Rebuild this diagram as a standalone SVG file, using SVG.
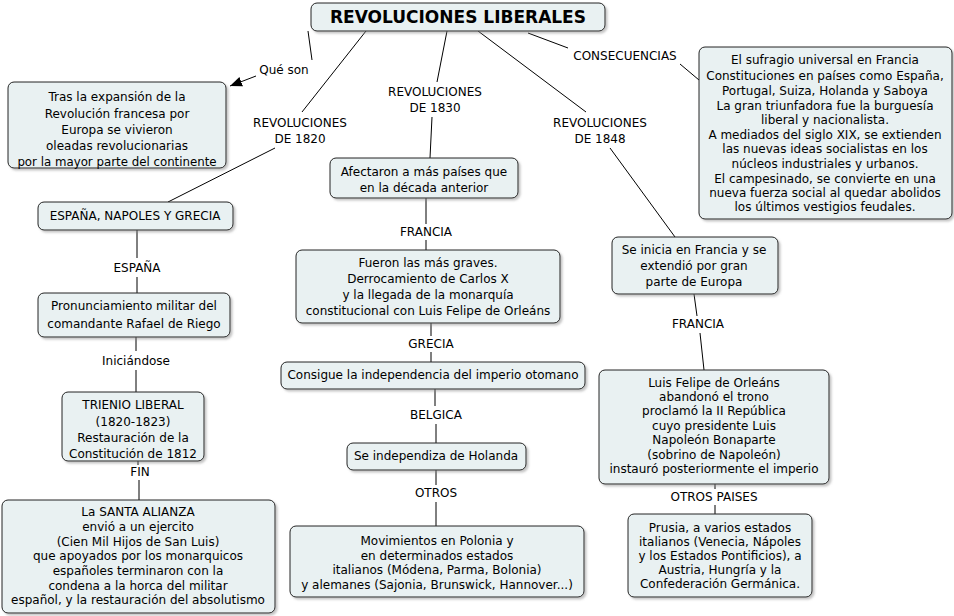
<svg xmlns="http://www.w3.org/2000/svg" width="954" height="616" viewBox="0 0 954 616">
<style>
.n{fill:#e9f1f2;stroke:#222;stroke-width:1;filter:url(#sh)}
text{font-family:Verdana,"DejaVu Sans",sans-serif;font-size:12px;fill:#000;text-anchor:middle}
.t{font-size:17px;font-weight:bold}
.c line{stroke:#000;stroke-width:1}
</style>
<defs>
<filter id="sh" x="-10%" y="-10%" width="130%" height="130%"><feDropShadow dx="2" dy="2" stdDeviation="1" flood-color="#888" flood-opacity="0.5"/></filter>
<marker id="ar" markerWidth="12" markerHeight="10" refX="12" refY="5" orient="auto" markerUnits="userSpaceOnUse"><path d="M0,0 L12,5 L0,10 z" fill="#000"/></marker>
</defs>
<rect width="954" height="616" fill="#fff"/>
<g class="c">
<line x1="308" y1="31" x2="312" y2="60"/>
<line x1="256" y1="76" x2="230" y2="86" marker-end="url(#ar)"/>
<line x1="366" y1="31" x2="302" y2="112"/>
<line x1="275" y1="148" x2="168" y2="202"/>
<line x1="447" y1="31" x2="437" y2="82"/>
<line x1="432" y1="117" x2="430" y2="158"/>
<line x1="478" y1="31" x2="586" y2="112"/>
<line x1="610" y1="148" x2="675" y2="237"/>
<line x1="528" y1="33" x2="568" y2="48"/>
<line x1="680" y1="64" x2="699" y2="80"/>
<line x1="426" y1="198" x2="426" y2="224"/>
<line x1="426" y1="240" x2="426" y2="250"/>
<line x1="137" y1="230" x2="137" y2="258"/>
<line x1="137" y1="277" x2="137" y2="293"/>
<line x1="136" y1="337" x2="136" y2="351"/>
<line x1="136" y1="370" x2="136" y2="392"/>
<line x1="138" y1="461" x2="138" y2="465"/>
<line x1="139" y1="480" x2="139" y2="500"/>
<line x1="431" y1="323" x2="431" y2="336"/>
<line x1="431" y1="352" x2="431" y2="362"/>
<line x1="435" y1="389" x2="435" y2="406"/>
<line x1="436" y1="424" x2="436" y2="443"/>
<line x1="436" y1="470" x2="436" y2="485"/>
<line x1="436" y1="502" x2="436" y2="526"/>
<line x1="694" y1="294" x2="697" y2="316"/>
<line x1="700" y1="333" x2="704" y2="370"/>
<line x1="715" y1="484" x2="715" y2="489"/>
<line x1="715" y1="505" x2="715" y2="514"/>
</g>
<g id="labels">
<text x="284" y="74">Qué son</text>
<text x="300" y="127">REVOLUCIONES</text><text x="300" y="143">DE 1820</text>
<text x="435" y="96">REVOLUCIONES</text><text x="435" y="112">DE 1830</text>
<text x="600" y="127">REVOLUCIONES</text><text x="600" y="143">DE 1848</text>
<text x="625" y="60">CONSECUENCIAS</text>
<text x="426" y="236">FRANCIA</text>
<text x="137" y="272">ESPAÑA</text>
<text x="136" y="365">Iniciándose</text>
<text x="140" y="476">FIN</text>
<text x="431" y="348">GRECIA</text>
<text x="436" y="419">BELGICA</text>
<text x="436" y="497">OTROS</text>
<text x="698" y="328">FRANCIA</text>
<text x="714" y="501">OTROS PAISES</text>
</g>
<g id="title"><rect class="n" x="311" y="3" width="294" height="28" rx="6"/><text class="t" x="458" y="23">REVOLUCIONES LIBERALES</text></g>
<g id="n1"><rect class="n" x="8" y="82" width="218" height="86" rx="6"/>
<text x="117" y="101">Tras la expansión de la</text><text x="117" y="118">Revolución francesa por</text><text x="117" y="134">Europa se vivieron</text><text x="117" y="150">oleadas revolucionarias</text><text x="117" y="166" style="font-size:11.8px">por la mayor parte del continente</text></g>
<g id="n2"><rect class="n" x="38" y="202" width="195" height="28" rx="6"/><text x="135" y="220">ESPAÑA, NAPOLES Y GRECIA</text></g>
<g id="n3"><rect class="n" x="38" y="293" width="192" height="44" rx="6"/><text x="134" y="310">Pronunciamiento militar del</text><text x="134" y="328">comandante Rafael de Riego</text></g>
<g id="n4"><rect class="n" x="62" y="392" width="142" height="69" rx="6"/><text x="133" y="409">TRIENIO LIBERAL</text><text x="133" y="426">(1820-1823)</text><text x="133" y="442">Restauración de la</text><text x="133" y="458">Constitución de 1812</text></g>
<g id="n5"><rect class="n" x="2" y="500" width="273" height="113" rx="6"/>
<text x="138" y="516">La SANTA ALIANZA</text><text x="138" y="531">envió a un ejercito</text><text x="138" y="546">(Cien Mil Hijos de San Luis)</text><text x="138" y="560">que apoyados por los monarquicos</text><text x="138" y="575">españoles terminaron con la</text><text x="138" y="590">condena a la horca del militar</text><text x="138" y="604">español, y la restauración del absolutismo</text></g>
<g id="n6"><rect class="n" x="330" y="158" width="188" height="40" rx="6"/><text x="424" y="176">Afectaron a más países que</text><text x="424" y="192">en la década anterior</text></g>
<g id="n7"><rect class="n" x="296" y="250" width="264" height="73" rx="6"/><text x="428" y="267">Fueron las más graves.</text><text x="428" y="283">Derrocamiento de Carlos X</text><text x="428" y="299">y la llegada de la monarquía</text><text x="428" y="315">constitucional con Luis Felipe de Orleáns</text></g>
<g id="n8"><rect class="n" x="281" y="362" width="304" height="27" rx="6"/><text x="433" y="379">Consigue la independencia del imperio otomano</text></g>
<g id="n9"><rect class="n" x="347" y="443" width="179" height="27" rx="6"/><text x="436" y="460">Se independiza de Holanda</text></g>
<g id="n10"><rect class="n" x="290" y="526" width="294" height="71" rx="6"/><text x="437" y="545">Movimientos en Polonia y</text><text x="437" y="560">en determinados estados</text><text x="437" y="574">italianos (Módena, Parma, Bolonia)</text><text x="437" y="589">y alemanes (Sajonia, Brunswick, Hannover...)</text></g>
<g id="n11"><rect class="n" x="612" y="237" width="166" height="57" rx="6"/><text x="694" y="254">Se inicia en Francia y se</text><text x="694" y="270">extendió por gran</text><text x="694" y="286">parte de Europa</text></g>
<g id="n12"><rect class="n" x="599" y="370" width="230" height="114" rx="6"/><text x="714" y="387">Luis Felipe de Orleáns</text><text x="714" y="401">abandonó el trono</text><text x="714" y="415">proclamó la II República</text><text x="714" y="430">cuyo presidente Luis</text><text x="714" y="444">Napoleón Bonaparte</text><text x="714" y="459">(sobrino de Napoleón)</text><text x="714" y="473">instauró posteriormente el imperio</text></g>
<g id="n13"><rect class="n" x="628" y="514" width="184" height="83" rx="6"/><text x="720" y="532">Prusia, a varios estados</text><text x="720" y="546">italianos (Venecia, Nápoles</text><text x="720" y="560">y los Estados Pontificios), a</text><text x="720" y="574">Austria, Hungría y la</text><text x="720" y="588">Confederación Germánica.</text></g>
<g id="n14"><rect class="n" x="699" y="47" width="253" height="172" rx="6"/>
<text x="825" y="64">El sufragio universal en Francia</text><text x="825" y="80">Constituciones en países como España,</text><text x="825" y="95">Portugal, Suiza, Holanda y Saboya</text><text x="825" y="110">La gran triunfadora fue la burguesía</text><text x="825" y="124">liberal y nacionalista.</text><text x="825" y="139">A mediados del siglo XIX, se extienden</text><text x="825" y="153">las nuevas ideas socialistas en los</text><text x="825" y="168">núcleos industriales y urbanos.</text><text x="825" y="183">El campesinado, se convierte en una</text><text x="825" y="197">nueva fuerza social al quedar abolidos</text><text x="825" y="211">los últimos vestigios feudales.</text></g>
</svg>
